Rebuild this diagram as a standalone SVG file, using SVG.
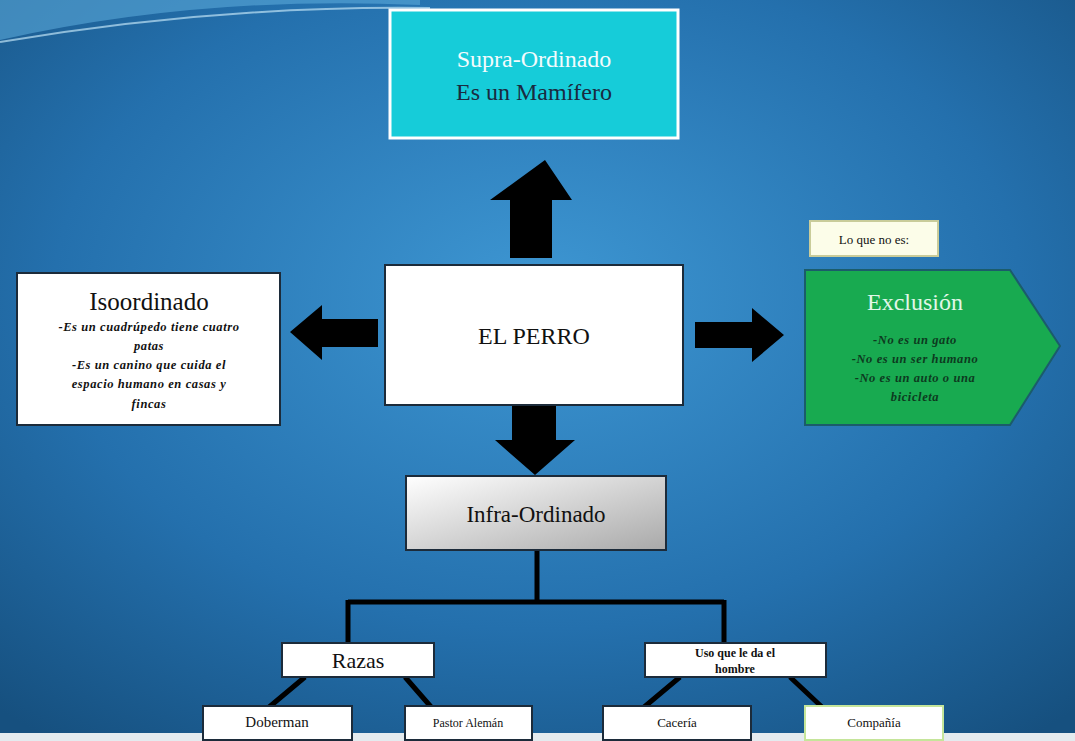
<svg xmlns="http://www.w3.org/2000/svg" width="1075" height="741" viewBox="0 0 1075 741">
<defs>
<radialGradient id="bg" cx="0.5" cy="0.4" r="0.75">
<stop offset="0" stop-color="#3e97d3"/><stop offset="0.6" stop-color="#2470ad"/><stop offset="1" stop-color="#16507f"/>
</radialGradient>
<linearGradient id="gray" x1="0" y1="0" x2="1" y2="1">
<stop offset="0" stop-color="#ffffff"/><stop offset="1" stop-color="#a9a9a9"/>
</linearGradient>
<style>
.box{fill:#fff;stroke:#1c2b3a;stroke-width:2}
.arrow{fill:#000}
.ln{stroke:#000;stroke-width:5;fill:none}
.t{font-family:"Liberation Serif",serif;fill:#111;text-anchor:middle}
.i{font-family:"Liberation Serif",serif;font-style:italic;font-weight:bold;fill:#111;text-anchor:middle;font-size:12.5px;letter-spacing:0.6px}
</style>
</defs>
<rect width="1075" height="741" fill="url(#bg)"/>
<path d="M0,40 Q200,-5 420,5 L420,0 L0,0 Z" fill="#5aa9d9" opacity="0.6"/>
<path d="M0,42 Q220,5 430,8" stroke="#bfe2f5" stroke-width="2" fill="none" opacity="0.7"/>
<rect x="0" y="733" width="1075" height="8" fill="#e4ebef"/>
<g id="connectors">
<polygon class="arrow" points="545,160 572,200 552,200 552,258 510,258 510,200 490,200"/>
<polygon class="arrow" points="290,332 322,305 322,319 378,319 378,347 322,347 322,360"/>
<polygon class="arrow" points="784,335 752,308 752,322 695,322 695,348 752,348 752,362"/>
<polygon class="arrow" points="535,475 575,440 556,440 556,405 512,405 512,440 495,440"/>
<path class="ln" d="M537,550 V602 M348,602 H724 M348,600 V645 M724,600 V645 M305,677 L268,708 M405,677 L432,708 M680,677 L643,708 M790,677 L823,708"/>
</g>
<g id="supra">
<rect x="390" y="10" width="288" height="128" fill="#16ccd9" stroke="#fff" stroke-width="3"/>
<text class="t" x="534" y="67" font-size="24" style="fill:#f3fbfd">Supra-Ordinado</text>
<text class="t" x="534" y="100" font-size="24" style="fill:#1a2a40">Es un Mamífero</text>
</g>
<g id="perro">
<rect class="box" x="385" y="265" width="298" height="140"/>
<text class="t" x="534" y="344" font-size="24">EL PERRO</text>
</g>
<g id="iso">
<rect class="box" x="17" y="273" width="263" height="152"/>
<text class="t" x="149" y="310" font-size="25">Isoordinado</text>
<text class="i" x="149" y="331">-Es un cuadrúpedo tiene cuatro</text>
<text class="i" x="149" y="350">patas</text>
<text class="i" x="149" y="369">-Es un canino que cuida el</text>
<text class="i" x="149" y="388">espacio humano en casas y</text>
<text class="i" x="149" y="408">fincas</text>
</g>
<g id="loque">
<rect x="810" y="221" width="128" height="35" fill="#fcfde9" stroke="#c9cc9a" stroke-width="2"/>
<text class="t" x="874" y="244" font-size="13">Lo que no es:</text>
</g>
<g id="exclusion">
<polygon points="805,270 1010,270 1060,346 1010,425 805,425" fill="#18aa50" stroke="#1b5c6b" stroke-width="2"/>
<text class="t" x="915" y="310" font-size="24" style="fill:#e2f7e8">Exclusión</text>
<text class="i" x="915" y="344" style="fill:#0d3a1f">-No es un gato</text>
<text class="i" x="915" y="363" style="fill:#0d3a1f">-No es un ser humano</text>
<text class="i" x="915" y="382" style="fill:#0d3a1f">-No es un auto o una</text>
<text class="i" x="915" y="401" style="fill:#0d3a1f">bicicleta</text>
</g>
<g id="infra">
<rect x="406" y="476" width="260" height="74" fill="url(#gray)" stroke="#1c2b3a" stroke-width="2"/>
<text class="t" x="536" y="522" font-size="23">Infra-Ordinado</text>
</g>
<g id="razas">
<rect class="box" x="282" y="643" width="152" height="34"/>
<text class="t" x="358" y="668" font-size="22">Razas</text>
</g>
<g id="uso">
<rect class="box" x="645" y="643" width="181" height="34"/>
<text class="t" x="735" y="657" font-size="12" font-weight="bold">Uso que le da el</text>
<text class="t" x="735" y="673" font-size="12" font-weight="bold">hombre</text>
</g>
<g id="doberman">
<rect class="box" x="203" y="706" width="149" height="34"/>
<text class="t" x="277" y="727" font-size="15">Doberman</text>
</g>
<g id="pastor">
<rect class="box" x="405" y="706" width="127" height="34"/>
<text class="t" x="468" y="727" font-size="12">Pastor Alemán</text>
</g>
<g id="caceria">
<rect class="box" x="603" y="706" width="148" height="34"/>
<text class="t" x="677" y="727" font-size="13">Cacería</text>
</g>
<g id="compania">
<rect x="805" y="706" width="138" height="34" fill="#fff" stroke="#c5e59a" stroke-width="2"/>
<text class="t" x="874" y="727" font-size="13">Compañía</text>
</g>
</svg>
